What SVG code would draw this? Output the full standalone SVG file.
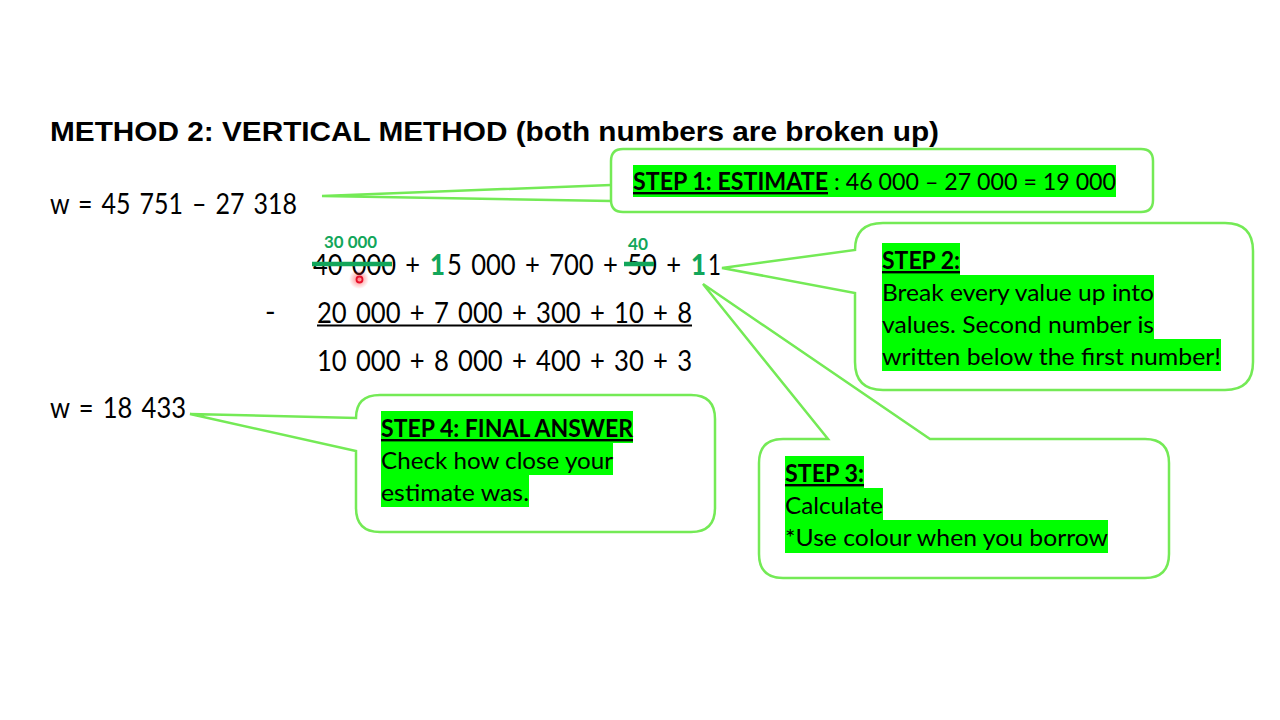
<svg xmlns="http://www.w3.org/2000/svg" width="1280" height="720" viewBox="0 0 1280 720">
<style>
text{font-family:"Lato","Carlito","Open Sans",sans-serif;fill:#000}
.t{font-family:"Liberation Sans",Arial,sans-serif;font-weight:700;font-size:27px}
.m{font-size:28.500px;word-spacing:3px}
.c{font-size:24px}
.b{font-weight:700}
.u{text-decoration:underline}
.g{fill:#12a65a;font-weight:900}
.s{font-size:17px;font-weight:700}
.hl{fill:#00ff00}
.call{fill:#fff;stroke:#74ea56;stroke-width:2.5;stroke-linejoin:miter}
.strike{stroke:#12a65a;stroke-width:4.5;fill:none}
</style>
<defs>
<radialGradient id="glow"><stop offset="0" stop-color="#ff3030" stop-opacity=".6"/><stop offset="1" stop-color="#ff3030" stop-opacity="0"/></radialGradient>
</defs>
<rect width="1280" height="720" fill="#fff"/>
<g id="connectors">
<path class="call" style="fill:none" d="M611 185L322 196L611 201"/>
</g>
<text class="t" x="50" y="141" textLength="889" lengthAdjust="spacingAndGlyphs">METHOD 2: VERTICAL METHOD (both numbers are broken up)</text>
<g id="equation">
<text class="m" x="50" y="213.500" textLength="247" lengthAdjust="spacingAndGlyphs">w = 45 751 – 27 318</text>
<text class="m" x="313" y="274.500" textLength="107" lengthAdjust="spacingAndGlyphs">40 000 +</text>
<text class="m g" x="430" y="274.500" textLength="15" lengthAdjust="spacingAndGlyphs">1</text>
<text class="m" x="447" y="274.500" textLength="234" lengthAdjust="spacingAndGlyphs">5 000 + 700 + 50 +</text>
<text class="m g" x="691" y="274.500" textLength="15" lengthAdjust="spacingAndGlyphs">1</text>
<text class="m" x="708" y="274.500" textLength="13" lengthAdjust="spacingAndGlyphs">1</text>
<text class="m" x="265" y="322">-</text>
<text class="m" x="317" y="322.500" textLength="375" lengthAdjust="spacingAndGlyphs">20 000 + 7 000 + 300 + 10 + 8</text>
<rect x="317" y="324.500" width="375" height="2" fill="#000"/>
<text class="m" x="317" y="370.500" textLength="375" lengthAdjust="spacingAndGlyphs">10 000 + 8 000 + 400 + 30 + 3</text>
<text class="m" x="50" y="417.500" textLength="136" lengthAdjust="spacingAndGlyphs">w = 18 433</text>
<text class="g s" x="324" y="248" textLength="53" lengthAdjust="spacingAndGlyphs">30 000</text>
<text class="g s" x="628" y="250" textLength="20" lengthAdjust="spacingAndGlyphs">40</text>
<path class="strike" d="M312 264H392M624 264H654"/>
<circle cx="359" cy="279" r="10" fill="url(#glow)"/>
<circle cx="359.500" cy="279.500" r="3" fill="none" stroke="#e8102a" stroke-width="1.800"/>
</g>
<g id="step1">
<path class="call" d="M623 149H1141Q1153 149 1153 161V200Q1153 212 1141 212H623Q611 212 611 200V161Q611 149 623 149Z"/>
<rect class="hl" x="633" y="165" width="483" height="32"/>
<text class="c b u" x="633" y="190" textLength="195" lengthAdjust="spacingAndGlyphs">STEP 1: ESTIMATE</text>
<text class="c" x="834" y="190" textLength="282" lengthAdjust="spacingAndGlyphs">: 46 000 – 27 000 = 19 000</text>
</g>
<g id="step2">
<path class="call" d="M883 223H1225Q1253 223 1253 251V362Q1253 390 1225 390H883Q855 390 855 362V293L722 268L855 250Q855 223 883 223Z"/>
<path class="hl" d="M882 243H960V275H1154V339H1221V371H882Z"/>
<text class="c b u" x="882" y="269" textLength="78" lengthAdjust="spacingAndGlyphs">STEP 2:</text>
<text class="c" x="882" y="300.500" textLength="272" lengthAdjust="spacingAndGlyphs">Break every value up into</text>
<text class="c" x="882" y="332.500" textLength="272" lengthAdjust="spacingAndGlyphs">values. Second number is</text>
<text class="c" x="882" y="364.500" textLength="339" lengthAdjust="spacingAndGlyphs">written below the first number!</text>
</g>
<g id="step3">
<path class="call" d="M783 439H828L703 284L930 439H1145Q1169 439 1169 463V554Q1169 578 1145 578H783Q759 578 759 554V463Q759 439 783 439Z"/>
<path class="hl" d="M785 456H864V488H883V520H1108V553H785Z"/>
<text class="c b u" x="785" y="482" textLength="79" lengthAdjust="spacingAndGlyphs">STEP 3:</text>
<text class="c" x="785" y="513.500" textLength="98" lengthAdjust="spacingAndGlyphs">Calculate</text>
<text class="c" x="785" y="545.500" textLength="323" lengthAdjust="spacingAndGlyphs">*Use colour when you borrow</text>
</g>
<g id="step4">
<path class="call" d="M380 395H691Q715 395 715 419V508Q715 532 691 532H380Q356 532 356 508V451L190 414L356 418Q356 395 380 395Z"/>
<path class="hl" d="M381 411H633V443H613V475H529V507H381Z"/>
<text class="c b u" x="381" y="437" textLength="252" lengthAdjust="spacingAndGlyphs">STEP 4: FINAL ANSWER</text>
<text class="c" x="381" y="468.500" textLength="232" lengthAdjust="spacingAndGlyphs">Check how close your</text>
<text class="c" x="381" y="500.500" textLength="148" lengthAdjust="spacingAndGlyphs">estimate was.</text>
</g>
</svg>
